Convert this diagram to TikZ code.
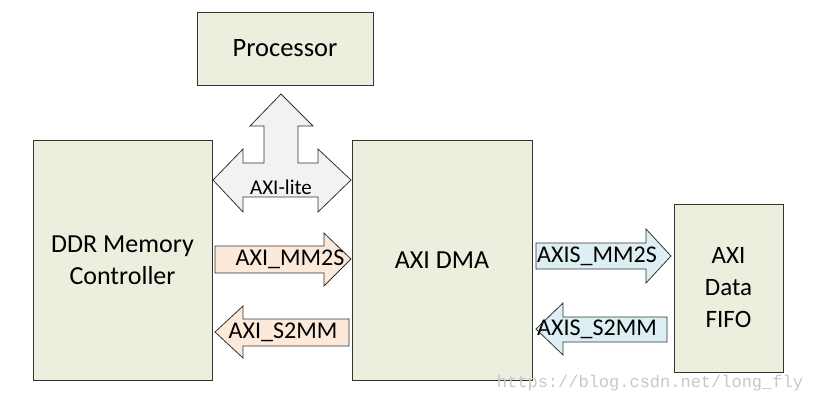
\documentclass[tikz,border=0pt]{standalone}
\usepackage{fontspec}
\setmainfont{Carlito}
\newfontfamily\wmfont{Liberation Mono}
\begin{document}
\begin{tikzpicture}[x=1pt,y=-1pt,
  box/.style={draw=black!80,line width=1pt,fill={rgb,255:red,235;green,239;blue,222}},
  arr/.style={draw=black!80,line width=0.8pt},
  lab/.style={font=\fontsize{24}{26}\selectfont,inner sep=0pt}]
\useasboundingbox (0,0) rectangle (813,400);
\definecolor{orf}{RGB}{252,233,218}
\definecolor{blf}{RGB}{222,239,243}
\definecolor{grf}{RGB}{242,242,242}
\node[box,minimum width=176pt,minimum height=73pt,font=\fontsize{26.5}{30}\selectfont] (proc) at (285,48.5) {Processor};
\node[box,minimum width=179pt,minimum height=240pt,align=center,font=\fontsize{26}{32}\selectfont] (ddr) at (122.5,260) {DDR Memory\\Controller};
\node[box,minimum width=180pt,minimum height=240pt,font=\fontsize{26}{30}\selectfont] (dma) at (442,260) {AXI DMA};
\node[box,minimum width=109pt,minimum height=168pt,align=center,font=\fontsize{25}{32}\selectfont] (fifo) at (728.5,288) {AXI\\Data\\FIFO};
% AXI-lite
\draw[arr,fill=grf] (281,94) -- (313,126) -- (298,126) -- (298,163) -- (318,163) -- (318,149) -- (351,180)
  -- (318,212) -- (318,197) -- (243,197) -- (243,212) -- (213,180) -- (243,149) -- (243,163) -- (264,163) -- (264,126) -- (250,126) -- cycle;
\node[lab,font=\fontsize{21}{24}\selectfont] (lite) at (281,187) {AXI-lite};
% AXI_MM2S
\draw[arr,fill=orf] (215,246) -- (324,246) -- (324,233) -- (351,259) -- (324,286) -- (324,273) -- (215,273) -- cycle;
\node[lab] (mm2s) at (290,259) {AXI\_MM2S};
% AXI_S2MM
\draw[arr,fill=orf] (349,319) -- (243,319) -- (243,306) -- (215,332) -- (243,358) -- (243,346) -- (349,346) -- cycle;
\node[lab] (s2mm) at (283,332) {AXI\_S2MM};
% AXIS_MM2S
\draw[arr,fill=blf] (536,243) -- (646,243) -- (646,229) -- (671,256) -- (646,283) -- (646,269) -- (536,269) -- cycle;
\node[lab] (smm2s) at (597,256) {AXIS\_MM2S};
% AXIS_S2MM
\draw[arr,fill=blf] (667,317) -- (563,317) -- (563,303) -- (536,329) -- (563,355) -- (563,342) -- (667,342) -- cycle;
\node[lab] (ss2mm) at (597,329) {AXIS\_S2MM};
\node[font=\wmfont\fontsize{17}{19}\selectfont,text=black!22] (wm) at (650,383) {https://blog.csdn.net/long\_fly};
\end{tikzpicture}
\end{document}
